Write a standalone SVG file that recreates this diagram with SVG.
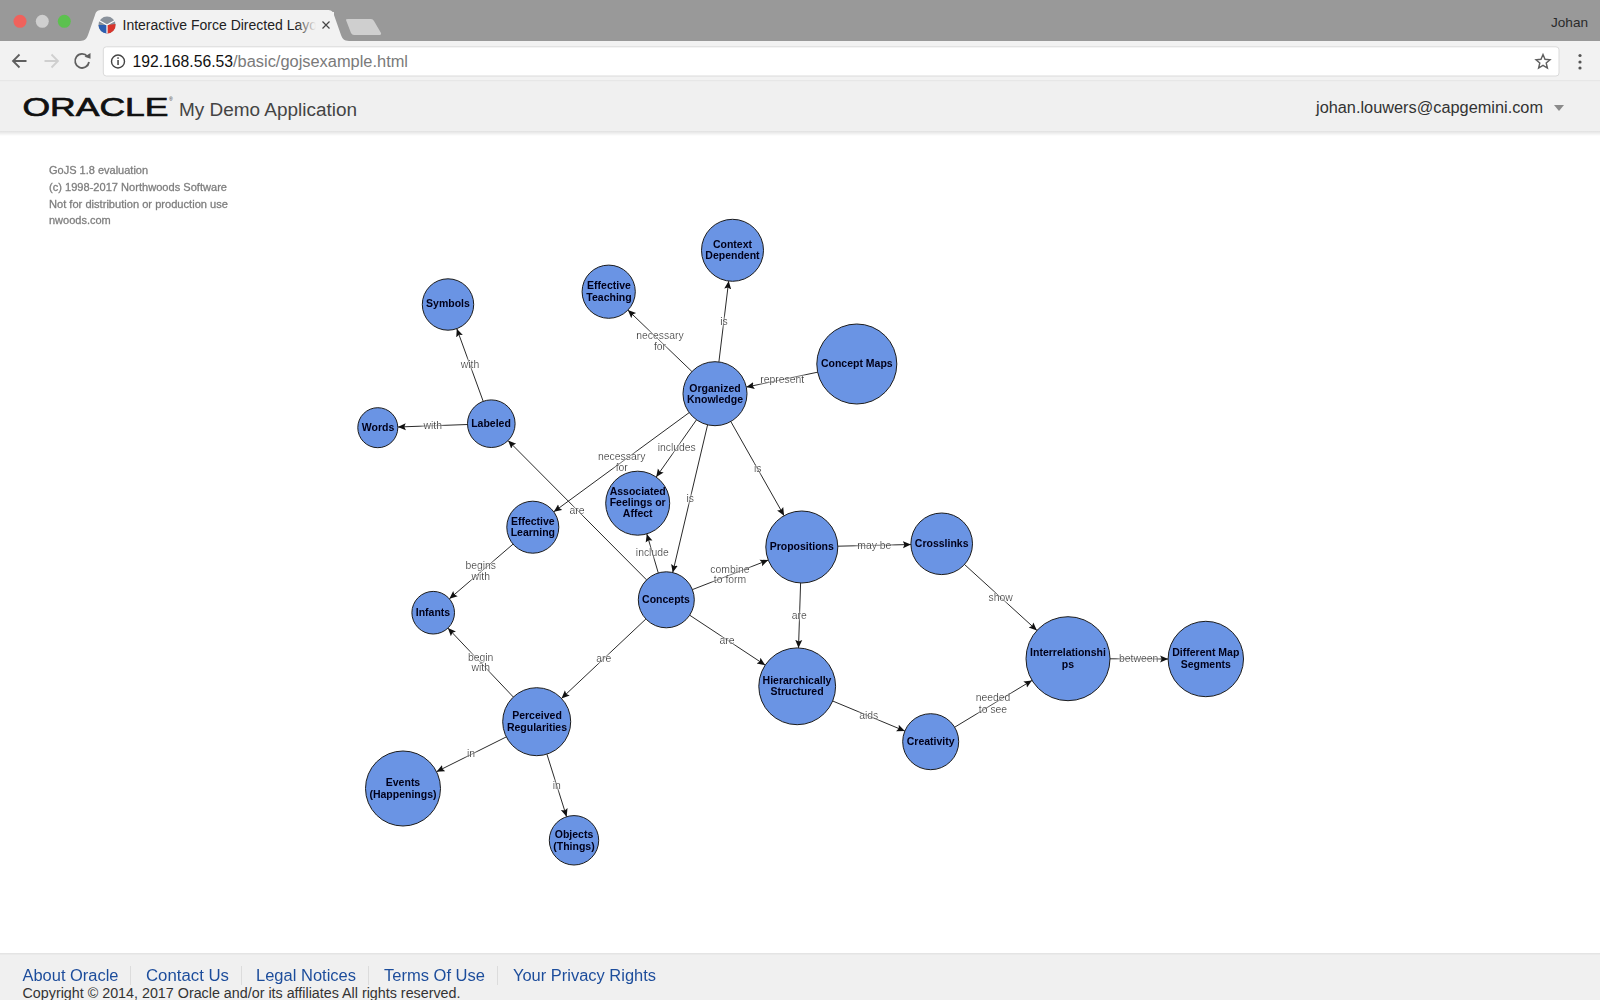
<svg xmlns="http://www.w3.org/2000/svg" width="1600" height="1000" viewBox="0 0 1600 1000">
<style>
text{font-family:"Liberation Sans",Arial,sans-serif}
.node circle{fill:#6a94e4;stroke:#1c1c1c;stroke-width:1}
.node text{font-size:10.5px;font-weight:bold;fill:#05051a;text-anchor:middle;filter:url(#soft)}
#connectors line{stroke:#2a2a2a;stroke-width:1;marker-end:url(#arrow)}
.lbl{font-size:10.4px;fill:#444;text-anchor:middle;filter:url(#halo)}
.wm{font-size:11px;fill:#777;stroke:#888;stroke-width:.3;filter:url(#wmf)}
.foot{font-size:16px;fill:#1f4e9c;filter:url(#soft)}
.div{stroke:#dcdcdc;stroke-width:1}
.ui{fill:none;stroke:#5f5f5f;stroke-width:1.8}
</style>
<defs>
<marker id="arrow" markerUnits="userSpaceOnUse" markerWidth="10" markerHeight="10" refX="8" refY="4" orient="auto">
<path d="M0,.5 L8,4 L0,7.5 L1.5,4 Z" fill="#111"/>
</marker>
<filter id="soft" x="-10%" y="-30%" width="120%" height="160%"><feGaussianBlur stdDeviation="0.3"/></filter>
<filter id="wmf" x="-10%" y="-30%" width="120%" height="160%"><feGaussianBlur stdDeviation="0.45"/></filter>
<filter id="halo" x="-40%" y="-60%" width="180%" height="220%">
<feMorphology in="SourceAlpha" operator="dilate" radius="1" result="d"/>
<feGaussianBlur in="d" stdDeviation="2" result="b"/>
<feFlood flood-color="#ffffff" flood-opacity=".75"/>
<feComposite in2="b" operator="in" result="w"/>
<feGaussianBlur in="SourceGraphic" stdDeviation="0.3" result="s"/>
<feMerge><feMergeNode in="w"/><feMergeNode in="s"/></feMerge>
</filter>
<linearGradient id="fade" x1="0" x2="1" y1="0" y2="0"><stop offset="0" stop-color="#f2f2f2" stop-opacity="0"/><stop offset="1" stop-color="#f2f2f2"/></linearGradient>
<linearGradient id="hs" x1="0" x2="0" y1="0" y2="1"><stop offset="0" stop-color="#000" stop-opacity=".12"/><stop offset="1" stop-color="#000" stop-opacity="0"/></linearGradient>
</defs>

<rect width="1600" height="1000" fill="#fff"/>

<!-- browser chrome -->
<g id="browser">
<rect width="1600" height="41" fill="#999"/>
<circle cx="20" cy="21.3" r="6.5" fill="#f0625c"/>
<circle cx="42.3" cy="21.3" r="6.5" fill="#cfcfcf"/>
<circle cx="64.3" cy="21.3" r="6.5" fill="#5cc14f"/>
<path d="M80,41 C85,41 87,38 88,35 L95,15 C96,11 98,10 102,10 L327,10 C331,10 333,11 334,15 L341,35 C342,38 344,41 349,41 Z" fill="#f2f2f2"/>
<path d="M346,20 Q345.500,19 348,19 L371,19 Q373,19 374,21 L381,33 Q381.500,35 379,35 L354,35 Q352,35 351,33 Z" fill="#cfcfcf"/>
<circle cx="107" cy="25" r="8.500" fill="#8a929c"/>
<path d="M107,25 L107,33.500 A8.500,8.500 0 0 1 98.500,25 Z" fill="#2d5fb0"/>
<path d="M107,25 L107,33.500 A8.500,8.500 0 0 0 115.500,24 Z" fill="#d8352c"/>
<path d="M107,25 L107,33.500 M107,25 L99,20.500 M107,25 L115,20.500" stroke="#fff" stroke-width="1.200" fill="none"/>
<text x="122.500" y="30" font-size="14" fill="#222">Interactive Force Directed Layout</text>
<rect x="296" y="12" width="20" height="26" fill="url(#fade)"/>
<rect x="316" y="12" width="18" height="26" fill="#f2f2f2"/>
<path d="M322.500,21.500 L329.500,28.500 M329.500,21.500 L322.500,28.500" stroke="#444" stroke-width="1.200" fill="none"/>
<text x="1551" y="27" font-size="13.500" fill="#2a2a2a" textLength="37" lengthAdjust="spacingAndGlyphs">Johan</text>

<rect y="41" width="1600" height="40" fill="#f2f2f2"/>
<rect y="80.500" width="1600" height="1" fill="#dcdcdc"/>
<path class="ui" d="M26.500,61 L13.500,61 M19.500,54.500 L13,61 L19.500,67.500"/>
<path class="ui" style="stroke:#cfcfcf" d="M44.500,61 L57.500,61 M51.500,54.500 L58,61 L51.500,67.500"/>
<path class="ui" d="M87.500,56.500 A7,7 0 1 0 89,62"/>
<path d="M84.500,56.800 L90.500,58.800 L90.500,53 Z" fill="#5f5f5f"/>
<rect x="103.300" y="46.800" width="1455.700" height="29.200" rx="3" fill="#fff" stroke="#dadada"/>
<circle cx="118" cy="61.500" r="6.500" fill="none" stroke="#444" stroke-width="1.400"/>
<rect x="117.300" y="60" width="1.500" height="5" fill="#444"/><rect x="117.300" y="57.300" width="1.500" height="1.500" fill="#444"/>
<text x="132.500" y="67" font-size="16" fill="#111" textLength="100.500" lengthAdjust="spacingAndGlyphs">192.168.56.53</text>
<text x="233" y="67" font-size="16" fill="#7a7a7a" textLength="175" lengthAdjust="spacingAndGlyphs">/basic/gojsexample.html</text>
<path d="M1543,54.500 L1545,59.300 L1550,59.700 L1546.200,63 L1547.400,68 L1543,65.300 L1538.600,68 L1539.800,63 L1536,59.700 L1541,59.300 Z" fill="none" stroke="#5f5f5f" stroke-width="1.400"/>
<circle cx="1580" cy="55.500" r="1.600" fill="#555"/><circle cx="1580" cy="62" r="1.600" fill="#555"/><circle cx="1580" cy="68" r="1.600" fill="#555"/>
</g>

<!-- application header -->
<g id="header">
<rect y="81.500" width="1600" height="49.500" fill="#f0f0f0"/>
<rect y="131" width="1600" height="5" fill="url(#hs)"/>
<text x="22.500" y="116" font-size="26" fill="#111" textLength="146" lengthAdjust="spacingAndGlyphs" stroke="#111" stroke-width=".7">ORACLE</text>
<text x="169" y="101" font-size="5" fill="#333">®</text>
<text x="179" y="116" font-size="18" fill="#444" textLength="178" lengthAdjust="spacingAndGlyphs">My Demo Application</text>
<text x="1316" y="113" font-size="16" fill="#333" textLength="227" lengthAdjust="spacingAndGlyphs">johan.louwers@capgemini.com</text>
<path d="M1554,105 L1564,105 L1559,111 Z" fill="#8a8a8a"/>
</g>

<!-- evaluation watermark -->
<g id="watermark">
<text class="wm" x="49" y="174">GoJS 1.8 evaluation</text>
<text class="wm" x="49" y="191" textLength="178" lengthAdjust="spacingAndGlyphs">(c) 1998-2017 Northwoods Software</text>
<text class="wm" x="49" y="208" textLength="179" lengthAdjust="spacingAndGlyphs">Not for distribution or production use</text>
<text class="wm" x="49" y="224">nwoods.com</text>
</g>

<g id="connectors">
<line x1="483.200" y1="401.300" x2="456.800" y2="328.700"/>
<line x1="467.500" y1="424.500" x2="397.800" y2="427"/>
<line x1="691.900" y1="371.500" x2="627.900" y2="310.100"/>
<line x1="718.900" y1="361.900" x2="728.700" y2="281.100"/>
<line x1="817.600" y1="372.200" x2="746.300" y2="387.100"/>
<line x1="689.200" y1="412.600" x2="553.800" y2="511.800"/>
<line x1="696.500" y1="419.800" x2="656.200" y2="477.100"/>
<line x1="707.600" y1="424.800" x2="672.700" y2="572.600"/>
<line x1="730.800" y1="421.500" x2="784.100" y2="515.700"/>
<line x1="646.600" y1="579.900" x2="508.100" y2="440.600"/>
<line x1="658.300" y1="573" x2="646.800" y2="533.900"/>
<line x1="692.400" y1="589.600" x2="768.200" y2="560.100"/>
<line x1="689.700" y1="615.200" x2="765.200" y2="665.100"/>
<line x1="645.900" y1="619" x2="561.500" y2="698.400"/>
<line x1="513.100" y1="544.100" x2="449.400" y2="598.800"/>
<line x1="513.300" y1="697" x2="447.900" y2="628.100"/>
<line x1="506.300" y1="736.900" x2="436.500" y2="771.700"/>
<line x1="546.900" y1="754.100" x2="566.600" y2="816.700"/>
<line x1="837.800" y1="546.200" x2="910.900" y2="544.500"/>
<line x1="800.600" y1="583" x2="798.500" y2="647.900"/>
<line x1="964.500" y1="564.500" x2="1036.900" y2="630.400"/>
<line x1="832.700" y1="701" x2="904.800" y2="731"/>
<line x1="954.700" y1="727.200" x2="1032" y2="680.400"/>
<line x1="1110" y1="658.800" x2="1168.100" y2="659"/>
</g>

<g id="link-labels">
<text class="lbl" x="470" y="368">with</text>
<text class="lbl" x="432.700" y="429.300">with</text>
<text class="lbl" x="660" y="339">necessary</text><text class="lbl" x="660" y="349.700">for</text>
<text class="lbl" x="724" y="324.700">is</text>
<text class="lbl" x="782.300" y="383">represent</text>
<text class="lbl" x="621.700" y="460">necessary</text><text class="lbl" x="621.700" y="470.700">for</text>
<text class="lbl" x="676.700" y="451.300">includes</text>
<text class="lbl" x="690.300" y="502">is</text>
<text class="lbl" x="757.700" y="472">is</text>
<text class="lbl" x="577" y="513.700">are</text>
<text class="lbl" x="652.300" y="556">include</text>
<text class="lbl" x="730" y="572.700">combine</text><text class="lbl" x="730" y="583.300">to form</text>
<text class="lbl" x="727" y="643.700">are</text>
<text class="lbl" x="603.700" y="662">are</text>
<text class="lbl" x="480.700" y="569.300">begins</text><text class="lbl" x="480.700" y="580">with</text>
<text class="lbl" x="480.700" y="660.700">begin</text><text class="lbl" x="480.700" y="671.300">with</text>
<text class="lbl" x="471" y="757.300">in</text>
<text class="lbl" x="556.700" y="788.700">in</text>
<text class="lbl" x="874.300" y="548.700">may be</text>
<text class="lbl" x="799.300" y="618.700">are</text>
<text class="lbl" x="1000.700" y="600.700">show</text>
<text class="lbl" x="868.700" y="719.300">aids</text>
<text class="lbl" x="993" y="701.300">needed</text><text class="lbl" x="993" y="712.700">to see</text>
<text class="lbl" x="1138.700" y="662.300">between</text>
</g>

<g id="n-symbols" class="node"><circle cx="448" cy="304.500" r="25.700"/><text x="448" y="307.300">Symbols</text></g>
<g id="n-effective-teaching" class="node"><circle cx="608.700" cy="291.700" r="26.600"/><text x="609" y="289.300">Effective</text><text x="609" y="300.700">Teaching</text></g>
<g id="n-words" class="node"><circle cx="377.800" cy="427.700" r="20"/><text x="378" y="430.700">Words</text></g>
<g id="n-labeled" class="node"><circle cx="491.300" cy="423.700" r="23.800"/><text x="491" y="426.700">Labeled</text></g>
<g id="n-context-dependent" class="node"><circle cx="732.500" cy="250.300" r="31"/><text x="732.500" y="248">Context</text><text x="732.500" y="259">Dependent</text></g>
<g id="n-concept-maps" class="node"><circle cx="856.800" cy="364" r="40"/><text x="856.800" y="367.300">Concept Maps</text></g>
<g id="n-organized-knowledge" class="node"><circle cx="715" cy="393.700" r="32"/><text x="715" y="391.700">Organized</text><text x="715" y="402.700">Knowledge</text></g>
<g id="n-associated" class="node"><circle cx="637.700" cy="503.200" r="32"/><text x="637.700" y="494.700">Associated</text><text x="637.700" y="506.300">Feelings or</text><text x="637.700" y="517.300">Affect</text></g>
<g id="n-effective-learning" class="node"><circle cx="532.800" cy="527.200" r="26"/><text x="532.800" y="524.700">Effective</text><text x="532.800" y="535.700">Learning</text></g>
<g id="n-infants" class="node"><circle cx="433.200" cy="612.700" r="21.300"/><text x="433" y="615.700">Infants</text></g>
<g id="n-concepts" class="node"><circle cx="666.300" cy="599.800" r="28"/><text x="666" y="603">Concepts</text></g>
<g id="n-perceived" class="node"><circle cx="536.700" cy="721.700" r="34"/><text x="537" y="719">Perceived</text><text x="537" y="730.700">Regularities</text></g>
<g id="n-events" class="node"><circle cx="403" cy="788.500" r="37.500"/><text x="403" y="786.300">Events</text><text x="403" y="797.700">(Happenings)</text></g>
<g id="n-objects" class="node"><circle cx="574" cy="840.300" r="24.700"/><text x="574" y="838">Objects</text><text x="574" y="849.700">(Things)</text></g>
<g id="n-propositions" class="node"><circle cx="801.800" cy="547" r="36"/><text x="801.800" y="550">Propositions</text></g>
<g id="n-crosslinks" class="node"><circle cx="941.700" cy="543.800" r="30.800"/><text x="941.700" y="546.700">Crosslinks</text></g>
<g id="n-hierarchically" class="node"><circle cx="797.200" cy="686.300" r="38.400"/><text x="797" y="683.700">Hierarchically</text><text x="797" y="695">Structured</text></g>
<g id="n-creativity" class="node"><circle cx="930.700" cy="741.700" r="28"/><text x="930.700" y="744.700">Creativity</text></g>
<g id="n-interrelationships" class="node"><circle cx="1068" cy="658.700" r="42"/><text x="1068" y="656.300">Interrelationshi</text><text x="1068" y="668">ps</text></g>
<g id="n-different" class="node"><circle cx="1205.800" cy="659" r="37.700"/><text x="1205.800" y="656.300">Different Map</text><text x="1205.800" y="668">Segments</text></g>

<!-- footer -->
<g id="footer">
<rect y="953" width="1600" height="47" fill="#f0f0f0"/>
<rect y="953" width="1600" height="1.500" fill="#e4e4e4"/>
<text class="foot" x="22.500" y="981" textLength="96" lengthAdjust="spacingAndGlyphs">About Oracle</text>
<line class="div" x1="130.500" y1="966" x2="130.500" y2="985"/>
<text class="foot" x="146" y="981" textLength="83" lengthAdjust="spacingAndGlyphs">Contact Us</text>
<line class="div" x1="241.500" y1="966" x2="241.500" y2="985"/>
<text class="foot" x="256" y="981" textLength="100" lengthAdjust="spacingAndGlyphs">Legal Notices</text>
<line class="div" x1="368.500" y1="966" x2="368.500" y2="985"/>
<text class="foot" x="384" y="981" textLength="101" lengthAdjust="spacingAndGlyphs">Terms Of Use</text>
<line class="div" x1="497.500" y1="966" x2="497.500" y2="985"/>
<text class="foot" x="513" y="981" textLength="143" lengthAdjust="spacingAndGlyphs">Your Privacy Rights</text>
<text x="22.500" y="998" font-size="14" fill="#333" textLength="438" lengthAdjust="spacingAndGlyphs">Copyright © 2014, 2017 Oracle and/or its affiliates All rights reserved.</text>
</g>
</svg>
